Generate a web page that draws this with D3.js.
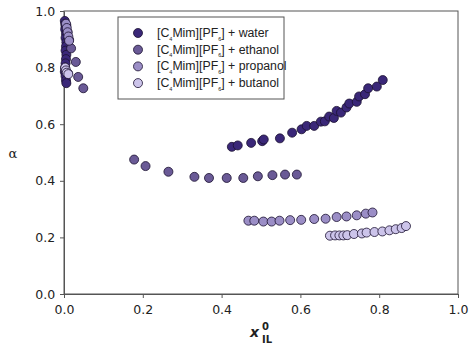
<!DOCTYPE html>
<html><head><meta charset="utf-8">
<script src="https://cdn.jsdelivr.net/npm/d3@7"></script>
<style>body{margin:0;background:#fff}</style>
</head><body>
<svg id="c" width="474" height="351"></svg>
<script>
const seriesNames = ["water","ethanol","propanol","butanol"];
const seriesColors = ["#3a2778","#6a5a96","#9b8ec6","#ccc4ea"];
const waterX = [0.002,0.003,0.004,0.003,0.005,0.004,0.006,0.005,0.004,0.006,0.005,0.004,0.003,0.002,0.004,0.005,0.006,
  0.426,0.441,0.475,0.503,0.507,0.548,0.579,0.603,0.616,0.635,0.652,0.662,0.673,0.685,0.692,0.703,0.717,0.724,0.743,0.749,0.764,0.772,0.794,0.809];
const waterY = [0.965,0.955,0.945,0.935,0.92,0.905,0.89,0.875,0.86,0.845,0.83,0.815,0.80,0.785,0.77,0.755,0.745,
  0.520,0.525,0.534,0.540,0.546,0.550,0.570,0.582,0.594,0.594,0.609,0.610,0.627,0.622,0.647,0.641,0.659,0.673,0.679,0.698,0.706,0.727,0.733,0.756];
const ethanolX = [0.006,0.009,0.013,0.018,0.030,0.036,0.049,0.178,0.207,0.265,0.331,0.368,0.413,0.455,0.492,0.529,0.561,0.591];
const ethanolY = [0.95,0.925,0.898,0.868,0.820,0.767,0.727,0.475,0.452,0.432,0.414,0.410,0.410,0.410,0.416,0.420,0.422,0.422];
const propanolX = [0.005,0.007,0.009,0.011,0.013,0.004,0.010,
  0.468,0.483,0.506,0.527,0.547,0.574,0.602,0.635,0.664,0.692,0.717,0.743,0.766,0.783];
const propanolY = [0.955,0.94,0.925,0.91,0.895,0.79,0.78,
  0.259,0.259,0.256,0.256,0.259,0.261,0.262,0.265,0.266,0.272,0.274,0.278,0.284,0.288];
const butanolX = [0.003,0.005,0.007,0.011,
  0.675,0.688,0.699,0.709,0.719,0.736,0.756,0.768,0.788,0.808,0.826,0.842,0.857,0.868];
const butanolY = [0.800,0.790,0.782,0.777,
  0.206,0.207,0.207,0.207,0.208,0.212,0.214,0.217,0.219,0.221,0.225,0.229,0.233,0.240];
const xTicks = [0,0.2,0.4,0.6,0.8,1.0];
const yTicks = [0,0.2,0.4,0.6,0.8,1.0];

const allX = [waterX,ethanolX,propanolX,butanolX];
const allY = [waterY,ethanolY,propanolY,butanolY];

const svg = d3.select("#c");
const L=64,R=458,T=11,B=294;
const x = d3.scaleLinear().domain([0,1]).range([L,R]);
const y = d3.scaleLinear().domain([0,1]).range([B,T]);
const font = "DejaVu Sans, Verdana, sans-serif";

svg.append("rect").attr("x",L).attr("y",T).attr("width",R-L).attr("height",B-T)
  .attr("fill","none").attr("stroke","#555").attr("stroke-width",1);

const xa = svg.append("g").attr("transform",`translate(0,${B})`)
  .call(d3.axisBottom(x).tickValues(xTicks).tickFormat(d3.format(".1f")).tickSize(4).tickSizeOuter(0));
const ya = svg.append("g").attr("transform",`translate(${L},0)`)
  .call(d3.axisLeft(y).tickValues(yTicks).tickFormat(d3.format(".1f")).tickSize(4).tickSizeOuter(0));
[xa,ya].forEach(a=>{
  a.select(".domain").attr("stroke","#555");
  a.selectAll(".tick line").attr("stroke","#555");
  a.selectAll("text").attr("font-family",font).attr("font-size",12.5).attr("fill","#222");
});
xa.selectAll("text").attr("dy","1.0em");
ya.selectAll("text").attr("dx","-0.15em");

[0,1,2,3].forEach(i=>{
  const pts = d3.zip(allX[i],allY[i]);
  svg.append("g").selectAll("circle").data(pts).join("circle")
    .attr("cx",d=>x(d[0])).attr("cy",d=>y(d[1])).attr("r",4.5)
    .attr("fill",seriesColors[i]).attr("stroke","#1a1030").attr("stroke-width",0.8);
});

const lg = svg.append("g");
lg.append("rect").attr("x",118).attr("y",17).attr("width",166).attr("height",82)
  .attr("fill","#fff").attr("stroke","#555").attr("stroke-width",1);
seriesNames.forEach((n,i)=>{
  const cy = 33+i*16.7;
  lg.append("circle").attr("cx",138).attr("cy",cy).attr("r",4.5)
    .attr("fill",seriesColors[i]).attr("stroke","#1a1030").attr("stroke-width",0.8);
  const t = lg.append("text").attr("x",157).attr("y",cy+4).attr("font-family","Liberation Sans, Arial, sans-serif")
    .attr("font-size",12.3).attr("fill","#222");
  t.append("tspan").text("[C");
  t.append("tspan").text("4").attr("font-size",5.5).attr("dy",3.5);
  t.append("tspan").text("Mim][PF").attr("dy",-3.5);
  t.append("tspan").text("6").attr("font-size",5.5).attr("dy",3.5);
  t.append("tspan").text("] + "+n).attr("dy",-3.5);
});

svg.append("text").attr("x",13).attr("y",158).attr("text-anchor","middle")
  .attr("font-family","DejaVu Serif, serif").attr("font-size",13).attr("fill","#222").text("α");
const xt = svg.append("g");
xt.append("text").attr("x",250).attr("y",337).attr("font-family",font).attr("font-size",14)
  .attr("font-weight","bold").attr("font-style","italic").attr("fill","#222").text("x");
xt.append("text").attr("x",262).attr("y",330).attr("font-family",font).attr("font-size",10)
  .attr("font-weight","bold").attr("fill","#222").text("0");
xt.append("text").attr("x",262).attr("y",343).attr("font-family",font).attr("font-size",10)
  .attr("font-weight","bold").attr("fill","#222").text("IL");
</script>
</body></html>
